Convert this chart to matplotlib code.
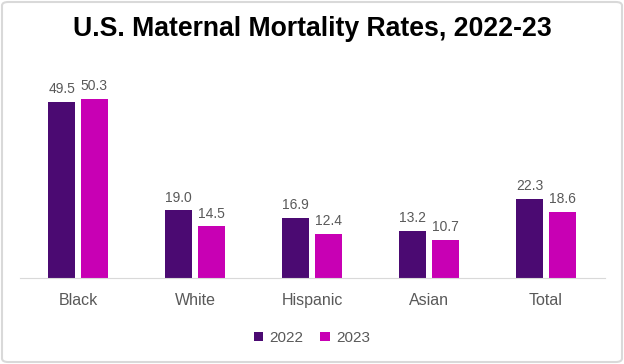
import matplotlib.pyplot as plt
import numpy as np
from matplotlib.patches import FancyBboxPatch

plt.rcParams['font.family'] = ['Liberation Sans', 'DejaVu Sans']

categories = ["Black", "White", "Hispanic", "Asian", "Total"]
years = ["2022", "2023"]
values_2022 = [49.5, 19.0, 16.9, 13.2, 22.3]
values_2023 = [50.3, 14.5, 12.4, 10.7, 18.6]
colors = ["#4B0A72", "#C800B4"]

fig = plt.figure(figsize=(6.24, 3.64), dpi=100)
ax = fig.add_axes([19.5/624, 86/364, 585/624, 196/364])

x = np.arange(len(categories))
w = 0.23
gap = 0.05
off = (w + gap) / 2
for vals, col, lab, sgn in [(values_2022, colors[0], years[0], -1), (values_2023, colors[1], years[1], 1)]:
    bars = ax.bar(x + sgn * off, vals, width=w, color=col, label=lab)
    for b, v in zip(bars, vals):
        ax.text(b.get_x() + b.get_width() / 2, v + 1.6, f"{v:.1f}", ha="center", va="bottom",
                fontsize=10, color="#595959")

ax.set_xlim(-0.5, len(categories) - 0.5)
ax.set_ylim(0, 55.1)
ax.set_xticks(x)
ax.set_xticklabels(categories, fontsize=11.5, color="#595959")
ax.tick_params(axis="x", length=0, pad=11)
ax.set_yticks([])
for s in ["top", "right", "left"]:
    ax.spines[s].set_visible(False)
ax.spines["bottom"].set_color("#D9D9D9")

fig.text(0.5, 1 - 29/364, "U.S. Maternal Mortality Rates, 2022-23", ha="center", va="center",
         fontsize=19.2, fontweight="bold", color="black")

leg = fig.legend(loc="center", bbox_to_anchor=(0.5, 1 - 338/364), ncol=2, frameon=False,
                 fontsize=11, handlelength=0.6, handleheight=0.6, handletextpad=0.45,
                 columnspacing=1.1, labelcolor="#595959")

border = FancyBboxPatch((2/624, 2/364), 620/624, 360/364, boxstyle="round,pad=0,rounding_size=0.01",
                        transform=fig.transFigure, fill=False, edgecolor="#D9D9D9", linewidth=1.5)
fig.patches.append(border)

fig.savefig("out.png", dpi=100)
